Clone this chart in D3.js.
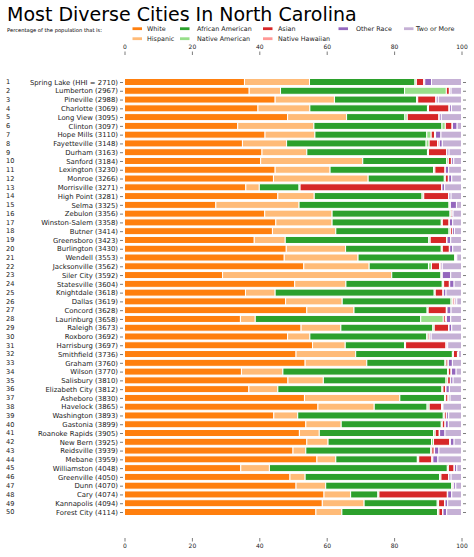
<!DOCTYPE html>
<html><head><meta charset="utf-8">
<script src="https://cdn.jsdelivr.net/npm/d3@7"></script>
<style>
body{margin:0;background:#fff;}
svg{display:block;font-family:"DejaVu Sans",sans-serif;}
</style></head>
<body><svg id="c" width="474" height="557"></svg>
<script>
const cities = ["Spring Lake (HHI = 2710)","Lumberton (2967)","Pineville (2988)","Charlotte (3069)","Long View (3095)","Clinton (3097)","Hope Mills (3110)","Fayetteville (3148)","Durham (3163)","Sanford (3184)","Lexington (3230)","Monroe (3266)","Morrisville (3271)","High Point (3281)","Selma (3325)","Zebulon (3356)","Winston-Salem (3358)","Butner (3414)","Greensboro (3423)","Burlington (3430)","Wendell (3553)","Jacksonville (3562)","Siler City (3592)","Statesville (3604)","Knightdale (3618)","Dallas (3619)","Concord (3628)","Laurinburg (3658)","Raleigh (3673)","Roxboro (3692)","Harrisburg (3697)","Smithfield (3736)","Graham (3760)","Wilson (3770)","Salisbury (3810)","Elizabeth City (3812)","Asheboro (3830)","Havelock (3865)","Washington (3893)","Gastonia (3899)","Roanoke Rapids (3905)","New Bern (3925)","Reidsville (3939)","Mebane (3959)","Williamston (4048)","Greenville (4050)","Dunn (4070)","Cary (4074)","Kannapolis (4094)","Forest City (4114)"];
const white = [35.6,37.0,44.7,39.6,48.4,33.6,41.7,35.0,40.8,40.4,44.7,44.2,36.0,45.5,27.1,41.6,44.9,43.9,38.5,48.0,47.4,53.2,29.1,50.5,35.9,47.8,54.1,34.4,52.4,48.4,55.8,50.9,53.6,34.7,48.5,36.9,53.4,57.4,44.3,53.8,51.9,54.1,50.0,57.1,34.5,49.1,50.9,59.2,58.7,56.8];
const hispanic = [19.3,9.3,17.6,15.4,17.5,22.6,14.8,13.1,13.3,30.3,16.3,28.1,4.0,10.8,24.7,20.0,16.7,18.8,9.2,17.6,21.9,19.4,50.2,15.2,8.8,16.8,14.0,4.4,11.8,6.6,9.7,17.7,18.3,12.3,10.5,8.6,28.3,16.7,7.1,10.5,5.9,6.3,3.8,5.6,8.5,4.5,8.8,7.9,12.4,7.7];
const african = [31.3,36.8,24.4,34.9,17.3,38.0,33.2,41.4,35.8,24.9,30.7,22.6,11.8,32.0,44.5,35.0,32.4,33.6,42.6,28.4,28.7,17.6,14.6,28.6,47.2,32.3,21.7,49.1,27.3,34.7,17.6,28.7,23.2,48.9,36.4,48.7,13.3,15.7,43.2,29.7,33.9,30.7,37.1,24.2,52.8,39.9,37.4,8.1,21.7,28.4];
const nativeAm = [0.4,12.4,0.3,0.3,0.7,1.0,1.3,0.9,0.3,0.5,0.4,0.3,0.3,0.5,0.2,0.3,0.3,0.4,0.4,0.3,0.2,0.9,0.2,0.4,0.3,0.4,0.3,6.7,0.4,0.4,0.3,0.3,0.3,0.2,0.5,0.3,0.3,0.6,0.3,0.3,0.5,0.6,0.3,0.4,0.3,0.4,0.3,0.3,0.4,0.4];
const asian = [2.2,0.9,5.4,6.1,9.4,2.0,1.0,2.5,5.4,0.9,3.0,0.9,42.0,7.4,0.2,0.3,2.0,0.6,4.9,2.1,0.2,2.4,0.2,1.7,2.3,0.5,5.4,0.6,4.3,0.5,12.0,1.2,0.6,0.8,0.8,0.8,0.7,3.7,0.6,0.8,1.2,4.8,0.7,3.9,1.7,2.3,0.3,20.3,1.8,1.1];
const hawaiian = [0.3,0.1,0.1,0.1,0.1,0.1,0.3,0.5,0.1,0.1,0.1,0.1,0.1,0.1,0.0,0.0,0.1,0.0,0.1,0.1,0.0,0.4,0.0,0.1,0.1,0.3,0.2,0.3,0.1,0.0,0.1,0.0,0.1,0.1,0.1,0.1,0.1,0.2,0.1,0.1,0.1,0.2,0.1,0.3,0.1,0.1,0.0,0.1,0.1,0.1];
const otherRace = [2.0,0.4,0.6,0.6,0.6,1.4,1.6,0.9,0.6,0.6,1.0,0.9,0.8,0.6,1.8,0.3,1.0,0.6,1.1,0.9,0.2,0.4,2.5,1.3,0.8,0.5,1.2,1.3,0.8,0.4,0.4,0.3,1.2,1.4,0.7,1.0,0.5,0.2,0.6,0.9,1.6,1.1,1.3,1.5,0.7,0.6,0.6,1.2,0.8,1.1];
const twoOrMore = [8.9,3.1,6.9,3.0,6.0,1.3,6.1,5.7,3.7,2.3,3.8,2.9,5.0,3.1,1.5,2.5,2.6,2.1,3.2,2.6,1.4,5.7,3.2,2.2,4.6,1.4,3.1,3.2,2.9,9.0,4.1,0.9,2.7,1.6,2.5,3.6,3.4,5.5,3.8,3.9,4.9,2.2,6.7,7.0,1.4,3.1,1.7,2.9,4.1,4.4];
const seriesNames = ["White","Hispanic","African American","Native American","Asian","Native Hawaiian","Other Race","Two or More"];
const seriesColors = ["#ff7f0e","#ffbb78","#2ca02c","#98df8a","#d62728","#ff9896","#9467bd","#c5b0d5"];
const xTicks = [0,20,40,60,80,100];
const titleText = "Most Diverse Cities In North Carolina";
const subtitleText = "Percentage of the population that is:";

const seriesArrays = [white,hispanic,african,nativeAm,asian,hawaiian,otherRace,twoOrMore];
const rows = cities.map((c,i)=>{const o={city:c,rank:i+1};seriesNames.forEach((s,j)=>o[s]=seriesArrays[j][i]);return o;});

const svg = d3.select("#c");
const x = d3.scaleLinear().domain([0,100]).range([124.5,461.5]);
const y = d3.scalePoint().domain(cities).range([82,512]);
const step = y.step();
const barH = step*0.8;
const color = d3.scaleOrdinal().domain(seriesNames).range(seriesColors);

// title
svg.append("text").attr("x",7).attr("y",21).attr("font-size",19).attr("fill","#000").text(titleText);
svg.append("text").attr("x",7).attr("y",31.5).attr("font-size",5.2).attr("fill","#000").text(subtitleText);

// legend (5 columns, filled column-wise)
const legSw = [132.5,180,263,338.5,404];
const legTx = [147,197,278,356,416];
const legPos = [[0,0],[0,1],[1,0],[1,1],[2,0],[2,1],[3,0],[4,0]];
seriesNames.forEach((s,i)=>{
  const [col,r] = legPos[i];
  const gy = 28.7 + r*10;
  svg.append("line").attr("x1",legSw[col]).attr("x2",legSw[col]+9.5).attr("y1",gy).attr("y2",gy)
    .attr("stroke",color(s)).attr("stroke-width",2.8);
  svg.append("text").attr("x",legTx[col]).attr("y",gy+2.2).attr("font-size",6.4).attr("fill","#222").text(s);
});

// stacked bars
const stack = d3.stack().keys(seriesNames)(rows);
const g = svg.append("g");
g.selectAll("g.s").data(stack).join("g").attr("class","s").attr("fill",d=>color(d.key))
 .selectAll("rect").data(d=>d).join("rect")
 .attr("x",d=>x(d[0])).attr("width",d=>Math.max(0,x(d[1])-x(d[0])))
 .attr("y",d=>y(d.data.city)-barH/2).attr("height",barH)
 .attr("stroke","#fff").attr("stroke-width",1);

// axes
function styleAxis(sel){sel.select(".domain").remove();sel.selectAll("text").attr("font-size",6).attr("fill","#222").attr("font-family","DejaVu Sans");sel.selectAll("line").attr("stroke","#444").attr("stroke-width",0.7);}
svg.append("g").attr("transform","translate(0,55)").call(d3.axisTop(x).tickValues(xTicks).tickSize(3.5).tickPadding(2.5)).call(styleAxis);
svg.append("g").attr("transform","translate(0,538)").call(d3.axisBottom(x).tickValues(xTicks).tickSize(3.5).tickPadding(2.5)).call(styleAxis);
svg.append("g").attr("transform","translate(123,0)").call(d3.axisLeft(y).tickSize(3).tickPadding(2)).call(styleAxis)
  .selectAll("text").attr("font-size",6.9);
svg.append("g").attr("transform","translate(463,0)").call(d3.axisRight(y).tickSize(3).tickFormat("")).call(styleAxis);

// rank numbers
svg.append("g").selectAll("text").data(rows).join("text")
  .attr("x",6).attr("y",d=>y(d.city)).attr("dy","0.35em").attr("font-size",6.6).attr("fill","#222").text(d=>d.rank);
</script></body></html>
